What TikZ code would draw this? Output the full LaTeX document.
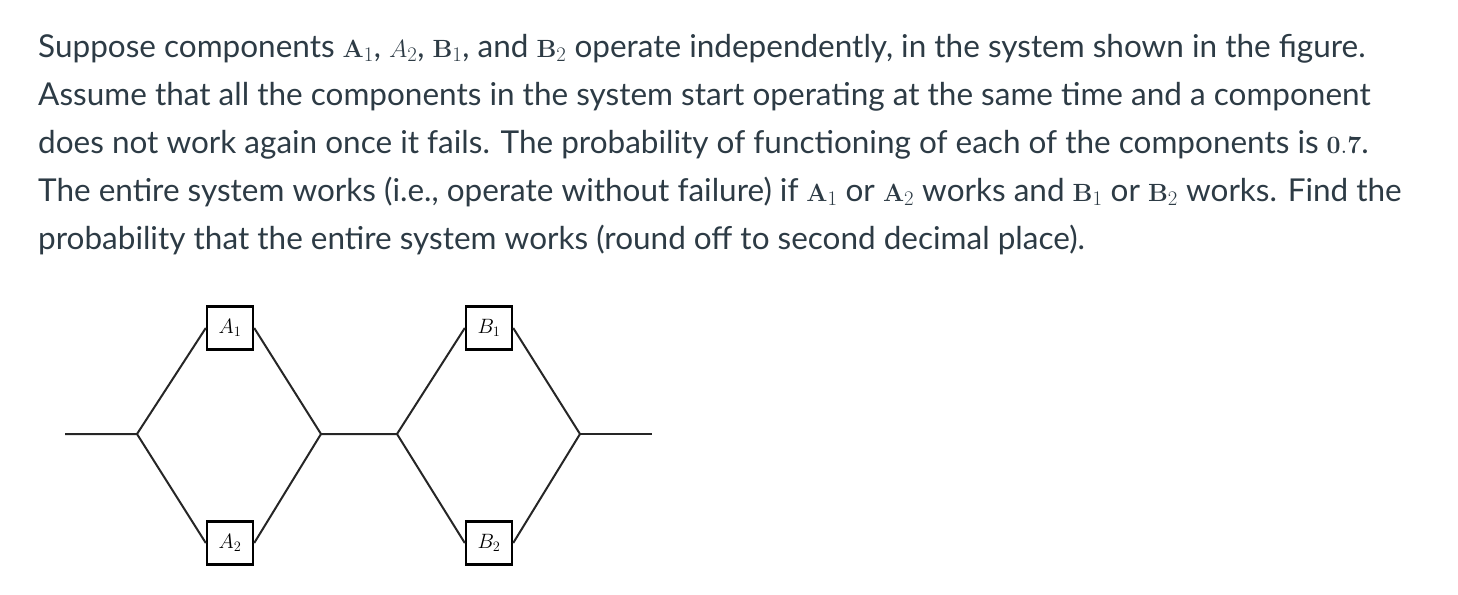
\documentclass[tikz,border=0pt]{standalone}
\usepackage[no-math]{fontspec}
\setmainfont{Lato}
\definecolor{txt}{HTML}{2D3B45}
\begin{document}
\begin{tikzpicture}[x=1pt,y=-1pt,
  ln/.style={anchor=base west,inner sep=0pt,text=txt,font=\fontsize{31.5}{36}\selectfont},
  comp/.style={draw,line width=2.4pt,minimum width=46pt,minimum height=43pt,inner sep=0pt,font=\fontsize{22}{24}\selectfont},
  wire/.style={line width=2pt,black!85}]
\useasboundingbox (0,0) rectangle (1458,594);
\node[ln] (l1) at (38,57) {Suppose components $\mathbf{A}_1$, $A_2$, $\mathbf{B}_1$, and $\mathbf{B}_2$ operate independently, in the system shown in the figure.};
\node[ln] (l2) at (38,105) {Assume that all the components in the system start operating at the same time and a component};
\node[ln] (l3) at (38,153) {does not work again once it fails. The probability of functioning of each of the components is $\mathbf{0.7}$.};
\node[ln] (l4) at (38,201) {The entire system works (i.e., operate without failure) if $\mathbf{A}_1$ or $\mathbf{A}_2$ works and $\mathbf{B}_1$ or $\mathbf{B}_2$ works. Find the};
\node[ln] (l5) at (38,249) {probability that the entire system works (round off to second decimal place).};
\node[comp] (A1) at (230,328) {$A_1$};
\node[comp] (A2) at (230,543) {$A_2$};
\node[comp] (B1) at (489,328) {$B_1$};
\node[comp] (B2) at (489,543) {$B_2$};
\coordinate (s) at (65,434);
\coordinate (j1) at (137,434);
\coordinate (j2) at (321,434);
\coordinate (j3) at (397,434);
\coordinate (j4) at (580,434);
\coordinate (e) at (652,434);
\draw[wire] (s) -- (j1) -- (A1.west) (A1.east) -- (j2) -- (A2.east) (A2.west) -- (j1);
\draw[wire] (j2) -- (j3) -- (B1.west) (B1.east) -- (j4) -- (B2.east) (B2.west) -- (j3);
\draw[wire] (j4) -- (e);
\end{tikzpicture}
\end{document}
